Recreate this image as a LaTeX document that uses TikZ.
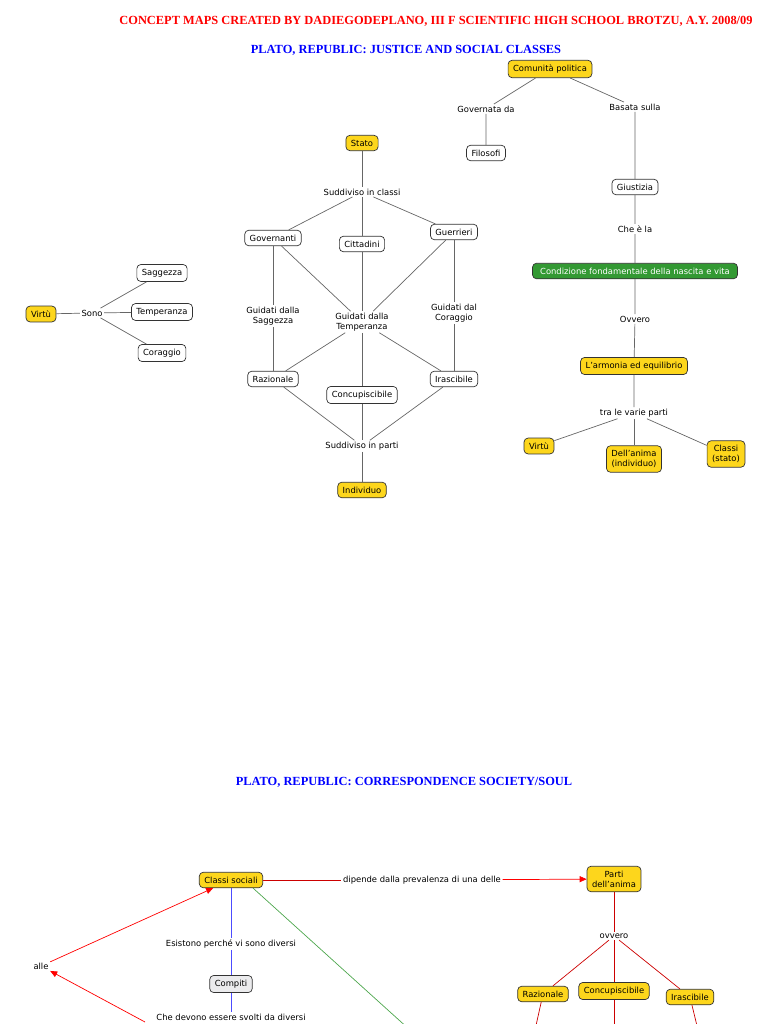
\documentclass[tikz,border=0pt]{standalone}
\usepackage{fontspec}
\setmainfont{Liberation Serif}
\setsansfont{DejaVu Sans}
\usetikzlibrary{arrows.meta}
\begin{document}
\begin{tikzpicture}[x=1pt,y=-1pt,
  box/.style={draw=black!80,rounded corners=4pt,fill=white,font=\sffamily\fontsize{8.4}{10}\selectfont,inner xsep=5pt,inner ysep=4.5pt,align=center,line width=0.7pt},
  ybox/.style={box,fill=yellow!70!orange!90!white},
  lab/.style={font=\sffamily\fontsize{8.4}{10}\selectfont,fill=white,inner sep=1.5pt,align=center},
  ln/.style={draw=black!60,line width=0.7pt},
  rl/.style={draw=red!80!black,line width=0.7pt},
  ttl/.style={font=\bfseries\fontsize{12.4}{14}\selectfont}]
\useasboundingbox (0,0) rectangle (768,1024);
\clip (0,0) rectangle (768,1024);
\node[ttl,text=red] (t1) at (436,21) {CONCEPT MAPS CREATED BY DADIEGODEPLANO, III F SCIENTIFIC HIGH SCHOOL BROTZU, A.Y. 2008/09};
\node[ttl,text=blue] (t2) at (406,50) {PLATO, REPUBLIC: JUSTICE AND SOCIAL CLASSES};
\node[ttl,text=blue] (t3) at (404,782) {PLATO, REPUBLIC: CORRESPONDENCE SOCIETY/SOUL};
% right map
\node[ybox] (cp) at (550,69) {Comunità politica};
\node[lab] (gd) at (486,109) {Governata da};
\node[lab] (bs) at (635,107) {Basata sulla};
\node[box] (fil) at (486,153) {Filosofi};
\node[box] (giu) at (635,187) {Giustizia};
\node[lab] (che) at (635,229) {Che è la};
\node[box,fill=green!50!black!80,text=white,minimum width=205pt] (cond) at (635,271) {Condizione fondamentale della nascita e vita};
\node[lab] (ovv) at (635,319) {Ovvero};
\node[ybox] (arm) at (634,366) {L'armonia ed equilibrio};
\node[lab] (tra) at (634,413) {tra le varie parti};
\node[ybox] (vr) at (539,446) {Virtù};
\node[ybox] (dell) at (634,459) {Dell'anima\\(individuo)};
\node[ybox] (cls) at (726,454) {Classi\\(stato)};
\draw[ln] (cp) -- (gd) -- (fil);
\draw[ln] (cp) -- (bs) -- (giu) -- (che) -- (cond) -- (ovv) -- (arm) -- (tra);
\draw[ln] (tra) -- (vr); \draw[ln] (tra) -- (dell); \draw[ln] (tra) -- (cls);
% middle map
\node[ybox] (st) at (362,143) {Stato};
\node[lab] (sc) at (362,192) {Suddiviso in classi};
\node[box] (gov) at (273,238) {Governanti};
\node[box] (cit) at (362,244) {Cittadini};
\node[box] (gue) at (454,232) {Guerrieri};
\node[lab] (gs) at (273,316) {Guidati dalla\\Saggezza};
\node[lab] (gt) at (362,322) {Guidati dalla\\Temperanza};
\node[lab] (gc) at (454,313) {Guidati dal\\Coraggio};
\node[box] (raz) at (273,379) {Razionale};
\node[box] (con) at (362,395) {Concupiscibile};
\node[box] (ira) at (454,379) {Irascibile};
\node[lab] (sp) at (362,446) {Suddiviso in parti};
\node[ybox] (ind) at (362,490) {Individuo};
\draw[ln] (st) -- (sc);
\draw[ln] (sc) -- (gov); \draw[ln] (sc) -- (cit); \draw[ln] (sc) -- (gue);
\draw[ln] (gov) -- (gs) -- (raz);
\draw[ln] (gov) -- (gt); \draw[ln] (cit) -- (gt); \draw[ln] (gue) -- (gt);
\draw[ln] (gue) -- (gc) -- (ira);
\draw[ln] (gt) -- (raz); \draw[ln] (gt) -- (con); \draw[ln] (gt) -- (ira);
\draw[ln] (raz) -- (sp); \draw[ln] (con) -- (sp); \draw[ln] (ira) -- (sp);
\draw[ln] (sp) -- (ind);
% left map
\node[ybox] (v2) at (41,314) {Virtù};
\node[lab] (so) at (92,313) {Sono};
\node[box] (sag) at (162,273) {Saggezza};
\node[box] (tem) at (162,312) {Temperanza};
\node[box] (cor) at (162,353) {Coraggio};
\draw[ln] (v2) -- (so);
\draw[ln] (so) -- (sag); \draw[ln] (so) -- (tem); \draw[ln] (so) -- (cor);
% bottom map
\node[ybox] (cs) at (231,880) {Classi sociali};
\node[lab] (dip) at (422,880) {dipende dalla prevalenza di una delle};
\node[ybox] (pa) at (614,879) {Parti\\dell'anima};
\node[lab] (ov2) at (614,936) {ovvero};
\node[ybox] (r2) at (543,994) {Razionale};
\node[ybox] (c2) at (614,991) {Concupiscibile};
\node[ybox] (i2) at (690,997) {Irascibile};
\node[lab] (es) at (231,944) {Esistono perché vi sono diversi};
\node[box,fill=blue!5!gray!15] (comp) at (231,984) {Compiti};
\node[lab] (cd) at (231,1017) {Che devono essere svolti da diversi};
\node[lab] (al) at (41,966) {alle};
\coordinate (e1) at (145,1022);
\coordinate (e2) at (410,1030);
\coordinate (r2b) at (535,1030);
\coordinate (c2b) at (614,1030);
\coordinate (i2b) at (698,1030);
\draw[rl] (cs) -- (dip);
\draw[rl,-{Triangle[length=7pt,width=6pt]},red] (dip) -- (pa);
\draw[rl,-{Triangle[length=7pt,width=6pt]},red] (al) -- (cs);
\draw[rl,-{Triangle[length=7pt,width=6pt]},red] (e1) -- (al);
\draw[rl] (pa) -- (ov2);
\draw[rl] (ov2) -- (r2); \draw[rl] (ov2) -- (c2); \draw[rl] (ov2) -- (i2);
\draw[rl] (r2) -- (r2b); \draw[rl] (c2) -- (c2b); \draw[rl] (i2) -- (i2b);
\draw[draw=blue!70,line width=0.6pt] (cs) -- (es) -- (comp) -- (cd);
\draw[draw=green!50!black!70,line width=0.7pt] (cs.south east) ++(-10,0) -- (e2);
\end{tikzpicture}
\end{document}
